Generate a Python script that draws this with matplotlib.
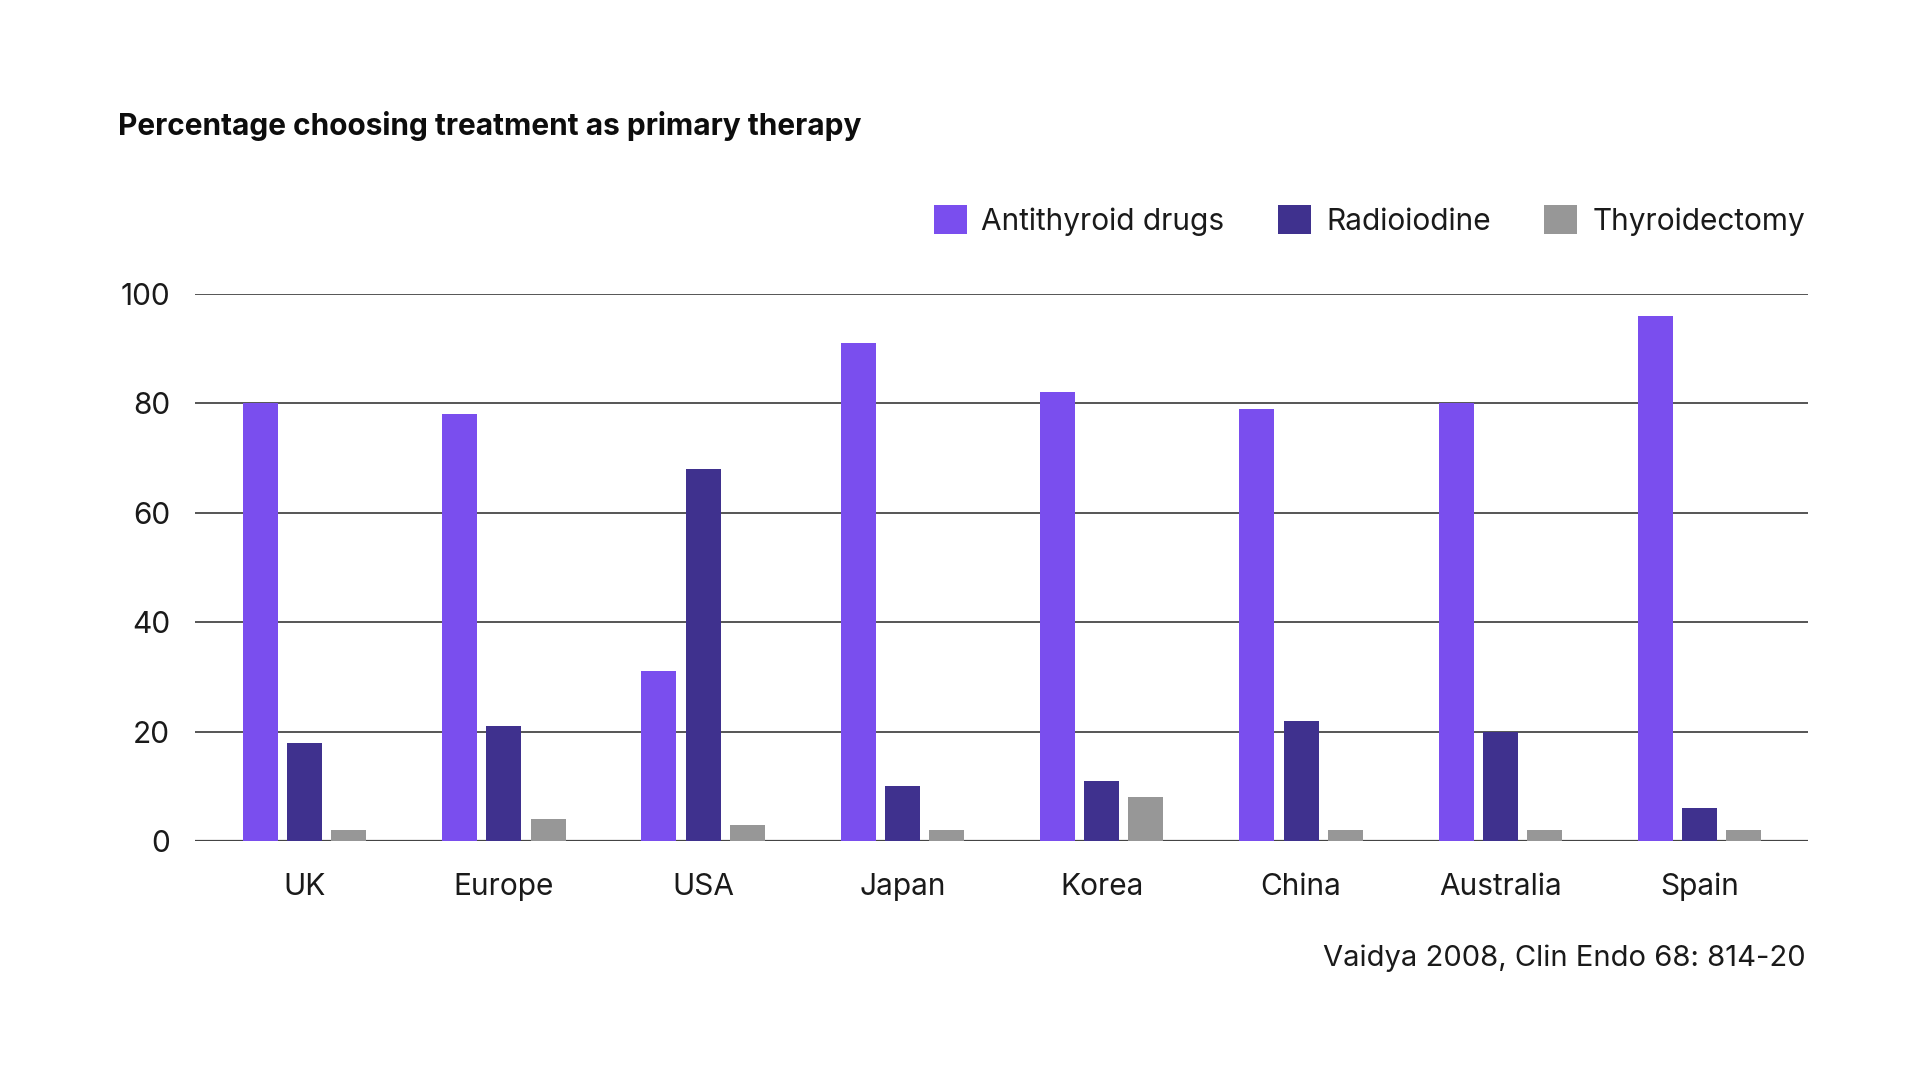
import numpy as np
import matplotlib
matplotlib.use('Agg')
import matplotlib.pyplot as plt

plt.rcParams['font.family'] = ['Inter', 'DejaVu Sans']

# data
countries = ['UK', 'Europe', 'USA', 'Japan', 'Korea', 'China', 'Australia', 'Spain']
antithyroid = [80, 78, 31, 91, 82, 79, 80, 96]
radioiodine = [18, 21, 68, 10, 11, 22, 20, 6]
thyroidectomy = [2, 4, 3, 2, 8, 2, 2, 2]
series_names = ['Antithyroid drugs', 'Radioiodine', 'Thyroidectomy']
colors = ['#7a4eee', '#3f318e', '#979797']
yticks = [0, 20, 40, 60, 80, 100]

fig = plt.figure(figsize=(19.2, 10.8), dpi=100)
ax = fig.add_axes([0.1016, 0.2213, 0.8401, 0.5065])

x = np.arange(len(countries))
w = 0.1756
step = 0.222
for i, (vals, name, c) in enumerate(zip([antithyroid, radioiodine, thyroidectomy], series_names, colors)):
    ax.bar(x + (i - 1) * step, vals, width=w, color=c, label=name, zorder=3)

ax.set_xlim(-0.549, 7.544)
ax.set_ylim(0, 100)
ax.set_yticks(yticks)
ax.set_xticks(x)
ax.set_xticklabels(countries)
ax.tick_params(axis='both', length=0, labelsize=21.5, colors='#1a1a1a')
ax.tick_params(axis='x', pad=23)
ax.tick_params(axis='y', pad=18)
ax.yaxis.grid(True, color='#555555', linewidth=1.4, zorder=1)
ax.xaxis.grid(False)
ax.set_axisbelow(True)
for s in ax.spines.values():
    s.set_visible(False)
ax.axhline(0, color='#444444', linewidth=1.6, zorder=2)

fig.text(0.0615, 0.875, 'Percentage choosing treatment as primary therapy',
         fontsize=21.5, fontweight='bold', va='baseline', ha='left', color='#0d0d0d')

fig.legend(loc='center right', bbox_to_anchor=(0.9401, 0.796), ncol=3, frameon=False,
           fontsize=21.5, handlelength=1.1, handleheight=1.1, handletextpad=0.5,
           columnspacing=1.8, borderpad=0, borderaxespad=0, labelcolor='#1a1a1a')

fig.text(0.9406, 0.1056, 'Vaidya 2008, Clin Endo 68: 814-20', fontsize=21,
         ha='right', va='baseline', color='#1a1a1a')

fig.savefig('out.png', dpi=100, facecolor='white')
